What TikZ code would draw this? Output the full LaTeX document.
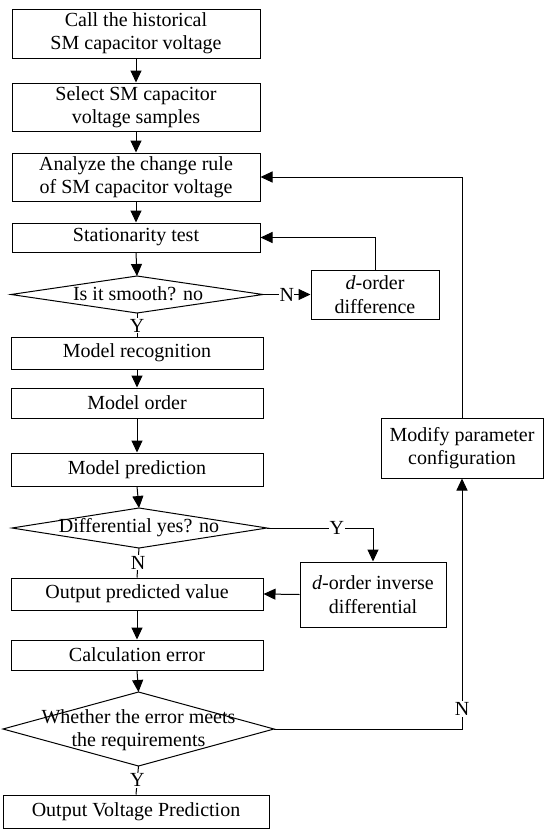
\documentclass[tikz,border=0pt]{standalone}
\usepackage{fontspec}
\setmainfont{Liberation Serif}
\usetikzlibrary{arrows.meta}
\begin{document}
\begin{tikzpicture}[x=1pt,y=-1pt,
  every node/.style={font=\fontsize{20}{23.4}\selectfont},
  box/.style={draw,line width=1pt,inner sep=0pt,align=center},
  lbl/.style={fill=white,inner sep=1pt},
  arr/.style={line width=1pt,-{Triangle[length=12pt,width=11pt]}},
  ln/.style={line width=1pt},
  dia/.style={draw,line width=1pt}]
\useasboundingbox (0,0) rectangle (550,833);
% main column boxes
\node[box,minimum width=248pt,minimum height=49pt] (b1) at (136,33.5) {Call the historical\\SM capacitor voltage};
\node[box,minimum width=248pt,minimum height=48pt] (b2) at (136,107) {Select SM capacitor\\voltage samples};
\node[box,minimum width=248pt,minimum height=48pt] (b3) at (136,177) {Analyze the change rule\\of SM capacitor voltage};
\node[box,minimum width=248pt,minimum height=29pt] (b4) at (136,237.5) {Stationarity test};
% diamond 1
\coordinate (d1t) at (137,276); \coordinate (d1b) at (137,313);
\coordinate (d1l) at (11,294.5); \coordinate (d1r) at (263,294.5);
\draw[dia] (d1t) -- (d1r) -- (d1b) -- (d1l) -- cycle;
\node (d1) at (138,294) {Is it smooth? no};
\node[box,minimum width=252pt,minimum height=32pt] (b5) at (137,353) {Model recognition};
\node[box,minimum width=252pt,minimum height=30pt] (b6) at (137,403) {Model order};
\node[box,minimum width=252pt,minimum height=33pt] (b7) at (137,469.5) {Model prediction};
% diamond 2
\coordinate (d2t) at (139,508); \coordinate (d2b) at (139,548);
\coordinate (d2l) at (12,528); \coordinate (d2r) at (267,528);
\draw[dia] (d2t) -- (d2r) -- (d2b) -- (d2l) -- cycle;
\node (d2) at (139,528) {Differential yes? no};
\node[box,minimum width=252pt,minimum height=32pt] (b8) at (137,594) {Output predicted value};
\node[box,minimum width=252pt,minimum height=30pt] (b9) at (137,655) {Calculation error};
% diamond 3
\coordinate (d3t) at (138.5,692); \coordinate (d3b) at (138.5,766);
\coordinate (d3l) at (3,729); \coordinate (d3r) at (274,729);
\draw[dia] (d3t) -- (d3r) -- (d3b) -- (d3l) -- cycle;
\node[align=center] (d3) at (138.5,730) {Whether the error meets\\the requirements};
\node[box,minimum width=266pt,minimum height=33pt] (b10) at (136,811.5) {Output Voltage Prediction};
% right boxes
\node[box,minimum width=128pt,minimum height=49pt] (r1) at (375,294.5) {\textit{d}-order\\difference};
\node[box,minimum width=162pt,minimum height=60pt] (r2) at (462,448) {Modify parameter\\configuration};
\node[box,minimum width=146pt,minimum height=65pt] (r3) at (373,594.5) {\textit{d}-order inverse\\differential};
% main connectors
\draw[arr] (b1.south) -- (b2.north);
\draw[arr] (b2.south) -- (b3.north);
\draw[arr] (b3.south) -- (b4.north);
\draw[arr] (b4.south) -- (d1t);
\draw[ln] (d1b) -- node[lbl,pos=0.55]{Y} (b5.north);
\draw[arr] (b5.south) -- (b6.north);
\draw[arr] (b6.south) -- (b7.north);
\draw[arr] (b7.south) -- (d2t);
\draw[ln] (d2b) -- node[lbl,pos=0.5]{N} (b8.north);
\draw[arr] (b8.south) -- (b9.north);
\draw[arr] (b9.south) -- (d3t);
\draw[ln] (d3b) -- node[lbl,pos=0.5]{Y} (b10.north);
% side connectors
\draw[arr] (d1r) -- node[lbl,pos=0.5,inner sep=0.5pt]{N} (r1.west);
\draw[arr] (r1.north) |- (b4.east);
\draw[arr] (r2.north) |- (b3.east);
\draw[arr] (d2r) -| node[lbl,pos=0.33]{Y} (r3.north);
\draw[arr] (r3.west) -- (b8.east);
\draw[arr] (d3r) -| node[lbl,pos=0.54]{N} (r2.south);
\end{tikzpicture}
\end{document}
